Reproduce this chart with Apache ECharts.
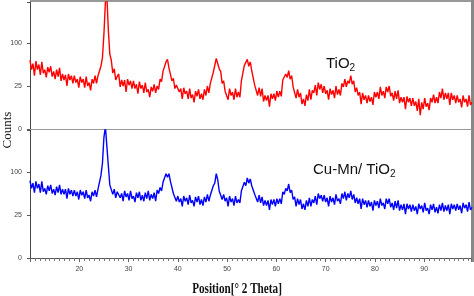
<!DOCTYPE html>
<html>
<head>
<meta charset="utf-8">
<script src="https://cdn.jsdelivr.net/npm/echarts@6/dist/echarts.min.js"></script>
<style>
  html, body { margin: 0; padding: 0; background: #fff; }
  #graph1 { width: 474px; height: 296px; }
</style>
</head>
<body>
<div id="graph1"></div>
<script>
// scan grid (degrees 2θ)
const angleStart = 10;
const angleStep = 0.3;

// intensities, in √counts (the axis is a square-root scale)
const tio2 = [
  8.0, 6.9, 7.6, 6.2, 7.9, 6.9, 7.5, 6.3, 7.8, 6.5,
  6.9, 6.0, 7.2, 6.6, 7.3, 6.1, 6.7, 5.8, 6.9, 6.1,
  7.1, 5.6, 6.4, 5.7, 6.3, 5.0, 6.4, 5.7, 6.2, 5.3,
  6.2, 5.4, 5.8, 4.8, 6.1, 5.4, 5.8, 4.8, 6.1, 5.0,
  5.4, 4.5, 5.8, 5.3, 6.2, 5.3, 6.2, 6.2, 7.3, 8.3,
  11.0, 14.7, 15.5, 11.5, 8.7, 8.0, 6.5, 7.0, 5.7, 6.1,
  6.4, 4.9, 5.7, 5.0, 5.7, 4.3, 5.8, 5.1, 5.6, 4.7,
  5.6, 4.7, 5.2, 4.1, 5.5, 4.7, 5.1, 4.2, 5.4, 4.3,
  4.6, 3.7, 4.9, 4.4, 5.2, 4.2, 5.0, 4.6, 5.8, 5.5,
  6.7, 6.5, 7.8, 8.1, 7.1, 7.0, 5.6, 5.9, 4.7, 5.1,
  5.3, 4.3, 4.7, 3.5, 4.8, 4.1, 4.4, 3.5, 4.7, 3.6,
  4.0, 3.1, 4.4, 3.8, 4.6, 3.5, 4.1, 3.4, 4.6, 3.9,
  5.0, 4.2, 5.3, 5.2, 6.6, 6.7, 8.2, 8.2, 7.0, 6.7,
  5.3, 5.6, 4.4, 4.6, 3.4, 4.7, 3.9, 4.3, 3.4, 4.7,
  3.7, 4.3, 3.7, 5.6, 5.8, 7.4, 7.2, 8.1, 7.3, 7.8,
  6.8, 6.8, 5.1, 5.1, 3.9, 4.8, 3.8, 4.7, 3.2, 3.9,
  3.3, 3.9, 2.6, 4.1, 3.5, 4.1, 3.3, 4.4, 3.7, 4.4,
  3.8, 5.7, 5.5, 6.4, 6.0, 6.8, 5.8, 6.2, 4.9, 5.1,
  3.6, 4.6, 3.7, 4.2, 2.9, 3.5, 2.7, 4.0, 3.3, 4.6,
  3.4, 4.5, 4.2, 5.1, 3.9, 5.4, 4.6, 5.2, 4.2, 5.0,
  4.1, 4.5, 3.4, 4.7, 4.0, 4.5, 3.6, 5.0, 4.0, 4.6,
  3.9, 5.3, 4.9, 5.8, 4.9, 5.6, 5.3, 6.2, 5.2, 5.6,
  4.3, 4.8, 3.9, 4.3, 2.9, 4.2, 3.4, 3.9, 3.0, 3.9,
  3.2, 3.7, 2.8, 4.3, 3.7, 4.3, 3.5, 4.9, 3.9, 4.4,
  3.6, 4.9, 4.3, 5.0, 3.8, 4.2, 3.3, 4.4, 3.5, 4.5,
  3.0, 3.7, 3.1, 3.7, 2.3, 3.8, 3.1, 3.6, 2.7, 3.6,
  2.7, 3.2, 2.1, 3.5, 1.6, 3.1, 2.3, 3.6, 2.6, 3.0,
  2.2, 3.6, 3.1, 4.0, 3.0, 3.7, 3.0, 4.3, 3.6, 4.7,
  3.4, 4.2, 3.5, 4.2, 2.8, 4.2, 3.4, 3.9, 3.0, 3.9,
  3.1, 3.5, 2.5, 3.9, 3.1, 3.5, 2.6, 3.9, 2.8, 3.1
];

const cuMnTio2 = [
  9.0, 8.1, 8.7, 7.6, 8.9, 8.1, 8.6, 7.6, 8.9, 7.7,
  8.1, 7.4, 8.4, 7.8, 8.5, 7.5, 8.0, 7.3, 8.3, 7.6,
  8.5, 7.4, 8.0, 7.4, 8.0, 6.9, 8.1, 7.4, 7.9, 7.2,
  7.9, 7.2, 7.7, 6.8, 7.9, 7.3, 7.7, 6.9, 7.9, 7.0,
  7.3, 6.6, 7.7, 7.2, 7.9, 7.1, 8.0, 8.2, 9.6, 11.0,
  14.0, 15.3, 13.0, 10.7, 8.5, 8.4, 7.4, 8.0, 7.0, 7.7,
  7.8, 7.0, 7.5, 6.6, 7.8, 7.1, 7.5, 6.7, 7.8, 6.9,
  7.2, 6.5, 7.6, 7.0, 7.7, 6.7, 7.3, 6.6, 7.6, 6.9,
  7.8, 6.7, 7.4, 6.9, 7.6, 6.6, 7.9, 7.5, 8.2, 7.8,
  8.8, 8.6, 9.8, 9.4, 9.8, 8.9, 9.0, 7.5, 7.4, 6.6,
  7.2, 6.5, 6.9, 6.0, 7.2, 6.6, 7.0, 6.2, 7.3, 6.4,
  6.7, 6.0, 7.1, 6.5, 7.2, 6.2, 6.8, 6.1, 7.1, 6.5,
  7.4, 6.6, 7.3, 7.2, 8.4, 8.7, 9.8, 9.1, 7.8, 7.8,
  6.8, 7.4, 6.6, 7.0, 6.0, 7.2, 6.5, 6.9, 6.1, 7.2,
  6.4, 6.8, 6.4, 7.8, 7.7, 8.8, 8.4, 9.3, 8.7, 9.2,
  8.4, 8.6, 7.4, 7.6, 6.5, 7.3, 6.4, 7.1, 6.1, 6.7,
  6.1, 6.7, 5.6, 6.8, 6.2, 6.8, 6.0, 6.9, 6.3, 6.9,
  6.3, 7.7, 7.4, 8.1, 7.8, 8.6, 7.6, 7.9, 6.8, 7.1,
  6.0, 6.9, 6.2, 6.8, 5.7, 6.3, 5.6, 6.7, 6.0, 7.0,
  6.0, 6.8, 6.4, 7.2, 6.2, 7.5, 6.9, 7.3, 6.6, 7.3,
  6.5, 7.0, 6.0, 7.2, 6.5, 7.0, 6.2, 7.4, 6.6, 6.9,
  6.3, 7.5, 6.9, 7.7, 6.7, 7.5, 7.0, 7.8, 6.8, 7.4,
  6.4, 7.0, 6.3, 6.9, 5.7, 6.9, 6.2, 6.7, 5.9, 6.7,
  6.0, 6.5, 5.5, 6.7, 6.1, 6.6, 5.8, 6.9, 6.1, 6.4,
  5.7, 6.9, 6.3, 6.9, 5.9, 6.4, 5.6, 6.6, 5.8, 6.7,
  5.5, 6.2, 5.6, 6.3, 5.1, 6.3, 5.7, 6.2, 5.4, 6.2,
  5.5, 6.0, 5.1, 6.3, 5.7, 6.1, 5.3, 6.4, 5.5, 5.8,
  5.1, 6.2, 5.6, 6.3, 5.3, 5.9, 5.2, 6.2, 5.5, 6.4,
  5.4, 6.1, 5.5, 6.2, 5.1, 6.3, 5.7, 6.2, 5.5, 6.3,
  5.6, 6.1, 5.2, 6.4, 5.8, 6.2, 5.4, 6.5, 5.6, 5.9
];

function toPairs(arr) {
  return arr.map((v, i) => [+(angleStart + i * angleStep).toFixed(1), v]);
}

let myChart = echarts.init(document.getElementById("graph1"));

const tickFont = { fontSize: 7, color: "#444", fontFamily: "Liberation Sans" };

function yAxisFor(gridIndex, max) {
  return {
    type: "value",
    gridIndex: gridIndex,
    min: 0,
    max: max,
    interval: 5,
    splitLine: { show: false },
    axisLine: { show: true, lineStyle: { color: "#444", width: 1 } },
    axisTick: { show: true, length: 3, lineStyle: { color: "#555" } },
    axisLabel: Object.assign({
      margin: 8,
      // labels show counts, ticks sit on √counts
      formatter: v => (v % 5 === 0 ? String(v * v) : "")
    }, tickFont)
  };
}

const option = {
  animation: false,
  backgroundColor: "#fff",
  grid: [
    { left: 30, right: 3, top: 2, height: 127 },
    { left: 30, right: 3, top: 130, height: 128 }
  ],
  xAxis: [
    {
      type: "value",
      gridIndex: 0,
      min: 10,
      max: 99.5,
      interval: 10,
      splitLine: { show: false },
      axisLine: { show: true, lineStyle: { color: "#999", width: 1 } },
      axisTick: { show: false },
      axisLabel: { show: false }
    },
    {
      type: "value",
      gridIndex: 1,
      min: 10,
      max: 99.5,
      interval: 10,
      splitLine: { show: false },
      axisLine: { show: true, lineStyle: { color: "#555", width: 1 } },
      axisTick: { show: true, length: 4, lineStyle: { color: "#666" } },
      minorTick: { show: true, splitNumber: 10, length: 3, lineStyle: { color: "#777" } },
      axisLabel: Object.assign({
        margin: 8,
        formatter: v => (v % 10 === 0 && v > 10 ? String(v) : "")
      }, tickFont)
    }
  ],
  yAxis: [yAxisFor(0, 14.77), yAxisFor(1, 14.88)],
  series: [
    {
      name: "TiO2",
      type: "line",
      xAxisIndex: 0,
      yAxisIndex: 0,
      showSymbol: false,
      clip: true,
      lineStyle: { color: "#ff0000", width: 1.4 },
      data: toPairs(tio2)
    },
    {
      name: "Cu-Mn/ TiO2",
      type: "line",
      xAxisIndex: 1,
      yAxisIndex: 1,
      showSymbol: false,
      clip: true,
      lineStyle: { color: "#0000ff", width: 1.4 },
      data: toPairs(cuMnTio2)
    }
  ],
  graphic: [
    // frame edges
    { type: "rect", shape: { x: 30, y: 0, width: 444, height: 2 }, style: { fill: "#999" }, silent: true },
    { type: "rect", shape: { x: 471, y: 0, width: 3, height: 262 }, style: { fill: "#888" }, silent: true },
    {
      type: "text", x: 326, y: 64,
      style: {
        text: "{a|TiO}{b|2}",
        verticalAlign: "middle",
        rich: {
          a: { fontSize: 15, fontFamily: "Liberation Sans", fill: "#111", lineHeight: 20 },
          b: { fontSize: 10, fontFamily: "Liberation Sans", fill: "#111", lineHeight: 20, padding: [9, 0, 0, 0] }
        }
      }
    },
    {
      type: "text", x: 313, y: 170,
      style: {
        text: "{a|Cu-Mn/ TiO}{b|2}",
        verticalAlign: "middle",
        rich: {
          a: { fontSize: 15, fontFamily: "Liberation Sans", fill: "#111", lineHeight: 20 },
          b: { fontSize: 10, fontFamily: "Liberation Sans", fill: "#111", lineHeight: 20, padding: [9, 0, 0, 0] }
        }
      }
    },
    {
      type: "text", x: 237, y: 289, scaleX: 0.8,
      style: {
        text: "Position[° 2 Theta]",
        align: "center", verticalAlign: "middle",
        fontSize: 14, fontWeight: "bold", fontFamily: "Liberation Serif", fill: "#111"
      }
    },
    {
      type: "text", x: 8, y: 130, rotation: Math.PI / 2,
      style: {
        text: "Counts",
        align: "center", verticalAlign: "middle",
        fontSize: 13, fontFamily: "Liberation Serif", fill: "#111"
      }
    }
  ]
};

myChart.setOption(option);
</script>
</body>
</html>
